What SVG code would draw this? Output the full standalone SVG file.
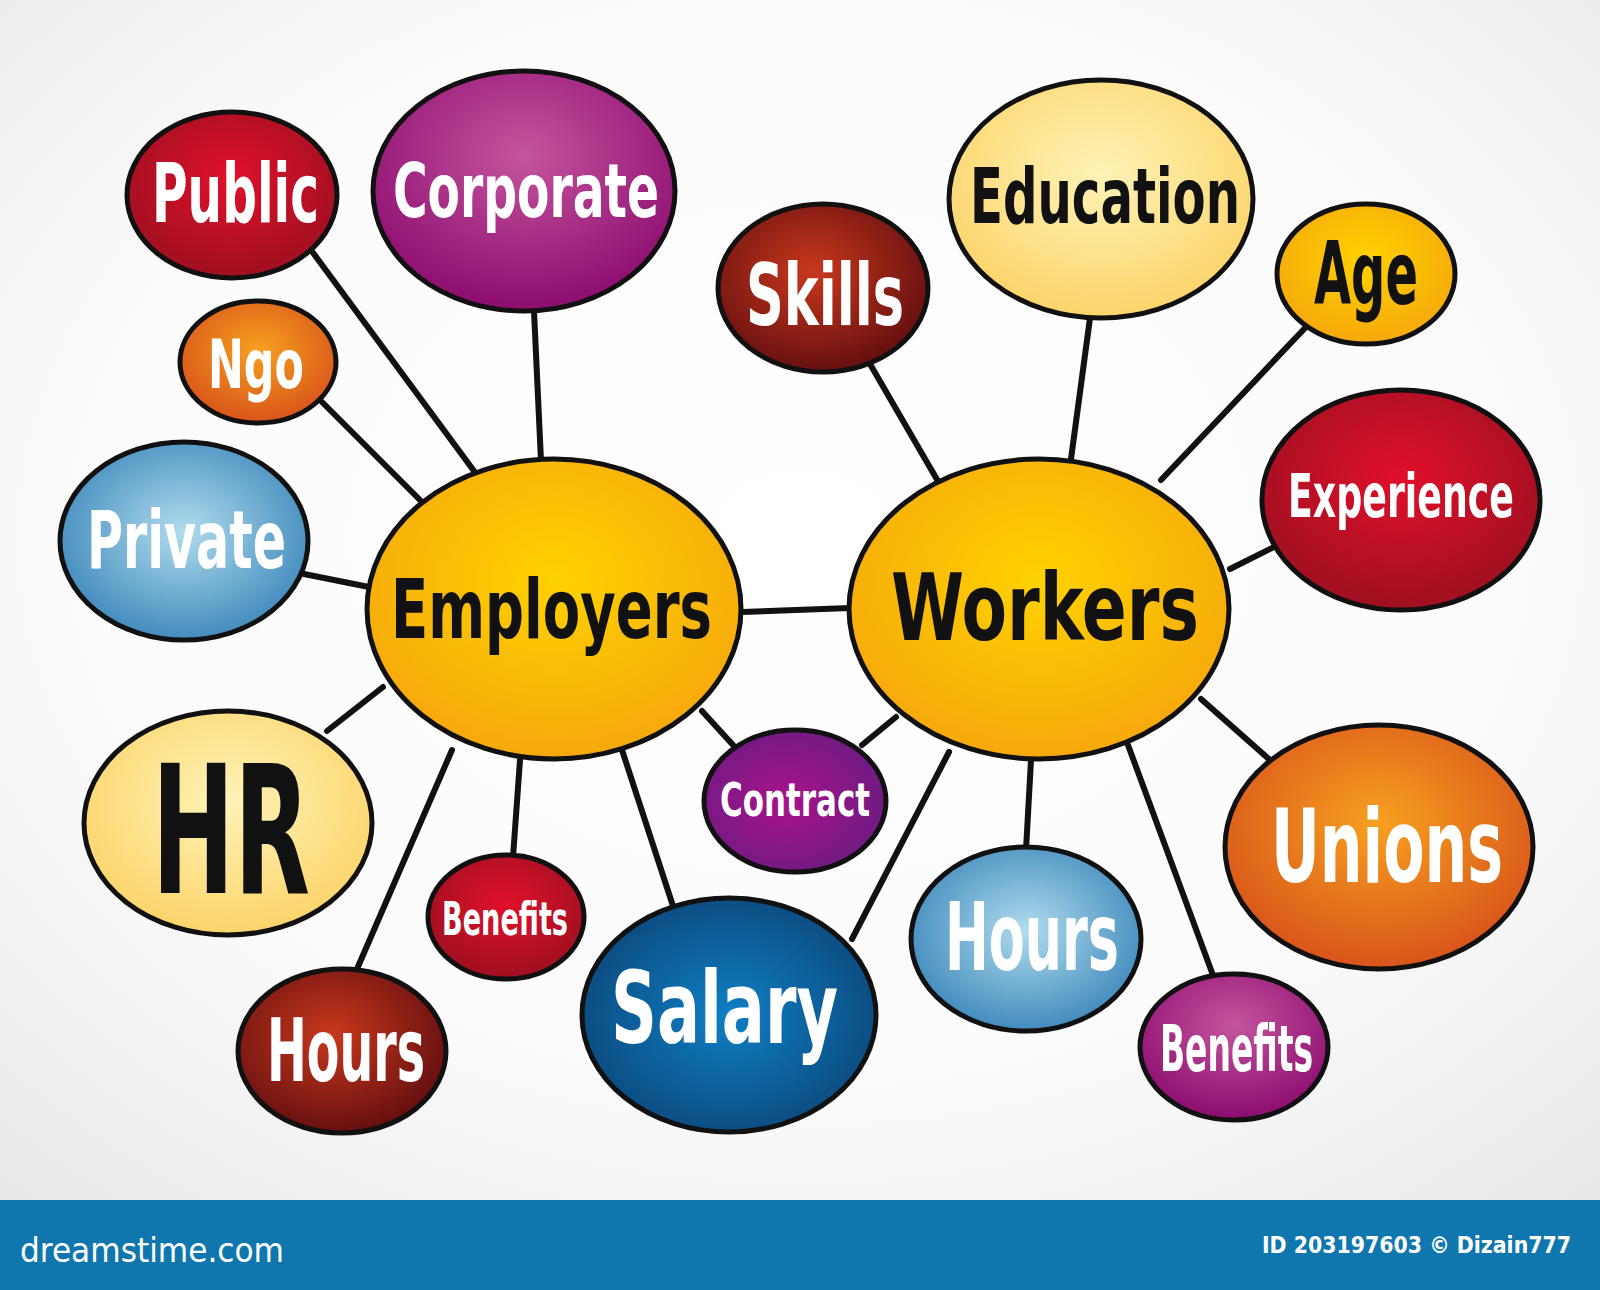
<svg xmlns="http://www.w3.org/2000/svg" width="1600" height="1290" viewBox="0 0 1600 1290">
<defs>
<radialGradient id="bg" cx="50%" cy="45%" r="75%"><stop offset="0" stop-color="#ffffff"/><stop offset="0.6" stop-color="#fbfbfb"/><stop offset="1" stop-color="#e8e8e8"/></radialGradient>
<radialGradient id="gGold" cx="50%" cy="40%" r="60%"><stop offset="0" stop-color="#ffd200"/><stop offset="1" stop-color="#f6a80c"/></radialGradient>
<radialGradient id="gCream" cx="50%" cy="40%" r="60%"><stop offset="0" stop-color="#fff3b8"/><stop offset="1" stop-color="#fcd46a"/></radialGradient>
<radialGradient id="gRed" cx="50%" cy="40%" r="60%"><stop offset="0" stop-color="#e0102a"/><stop offset="1" stop-color="#9e1020"/></radialGradient>
<radialGradient id="gMag" cx="50%" cy="35%" r="62%"><stop offset="0" stop-color="#c4559f"/><stop offset="1" stop-color="#8e0f70"/></radialGradient>
<radialGradient id="gOrange" cx="50%" cy="40%" r="60%"><stop offset="0" stop-color="#f7a020"/><stop offset="1" stop-color="#d8541a"/></radialGradient>
<radialGradient id="gLBlue" cx="50%" cy="45%" r="60%"><stop offset="0" stop-color="#b0dcee"/><stop offset="1" stop-color="#3884b8"/></radialGradient>
<radialGradient id="gDRed" cx="45%" cy="40%" r="60%"><stop offset="0" stop-color="#c8381c"/><stop offset="1" stop-color="#661010"/></radialGradient>
<radialGradient id="gBlue" cx="50%" cy="50%" r="60%"><stop offset="0" stop-color="#0f7fc4"/><stop offset="1" stop-color="#0b4476"/></radialGradient>
<radialGradient id="gPurple" cx="45%" cy="50%" r="60%"><stop offset="0" stop-color="#a8128a"/><stop offset="1" stop-color="#6a1c82"/></radialGradient>
<style>
.n{stroke:#111;stroke-width:5}
.c line{stroke:#111;stroke-width:6;stroke-linecap:round}
text{font-family:"Liberation Sans Narrow","DejaVu Sans Condensed","Liberation Sans",sans-serif;font-weight:bold}
.w{fill:#ffffff}
.k{fill:#111111}
</style>
</defs>
<rect x="0" y="0" width="1600" height="1200" fill="url(#bg)"/>
<g id="connectors" class="c">
<line x1="311" y1="250" x2="474" y2="471"/>
<line x1="534" y1="311" x2="541" y2="461"/>
<line x1="321" y1="401" x2="420" y2="500"/>
<line x1="304" y1="574" x2="369" y2="587"/>
<line x1="327" y1="731" x2="383" y2="687"/>
<line x1="357" y1="969" x2="452" y2="750"/>
<line x1="513" y1="857" x2="520" y2="760"/>
<line x1="673" y1="906" x2="622" y2="750"/>
<line x1="733" y1="745" x2="702" y2="711"/>
<line x1="862" y1="745" x2="896" y2="717"/>
<line x1="742" y1="612" x2="850" y2="608"/>
<line x1="870" y1="364" x2="939" y2="483"/>
<line x1="1090" y1="318" x2="1071" y2="459"/>
<line x1="1306" y1="327" x2="1161" y2="480"/>
<line x1="1276" y1="546" x2="1230" y2="569"/>
<line x1="1270" y1="760" x2="1201" y2="699"/>
<line x1="1214" y1="978" x2="1128" y2="745"/>
<line x1="1026" y1="850" x2="1031" y2="760"/>
<line x1="852" y1="939" x2="949" y2="752"/>
</g>
<g id="employers"><ellipse class="n" cx="554" cy="609" rx="187" ry="150" fill="url(#gGold)"/><text class="k" x="391" y="638" font-size="82" textLength="321" lengthAdjust="spacingAndGlyphs">Employers</text></g>
<g id="workers"><ellipse class="n" cx="1039" cy="609" rx="190" ry="150" fill="url(#gGold)"/><text class="k" x="891" y="640" font-size="92" textLength="308" lengthAdjust="spacingAndGlyphs">Workers</text></g>
<g id="public"><ellipse class="n" cx="232" cy="195" rx="105" ry="83" fill="url(#gRed)"/><text class="w" x="152" y="222" font-size="82" textLength="167" lengthAdjust="spacingAndGlyphs">Public</text></g>
<g id="corporate"><ellipse class="n" cx="524" cy="191" rx="151" ry="120" fill="url(#gMag)"/><text class="w" x="393" y="217" font-size="75" textLength="266" lengthAdjust="spacingAndGlyphs">Corporate</text></g>
<g id="ngo"><ellipse class="n" cx="258" cy="362" rx="78" ry="61" fill="url(#gOrange)"/><text class="w" x="208" y="388" font-size="68" textLength="96" lengthAdjust="spacingAndGlyphs">Ngo</text></g>
<g id="private"><ellipse class="n" cx="184" cy="541" rx="124" ry="99" fill="url(#gLBlue)"/><text class="w" x="87" y="568" font-size="80" textLength="199" lengthAdjust="spacingAndGlyphs">Private</text></g>
<g id="hr"><ellipse class="n" cx="228" cy="823" rx="144" ry="112" fill="url(#gCream)"/><text class="k" x="152" y="893" font-size="178" textLength="158" lengthAdjust="spacingAndGlyphs">HR</text></g>
<g id="benefits-employers"><ellipse class="n" cx="506" cy="917" rx="78" ry="62" fill="url(#gRed)"/><text class="w" x="442" y="935" font-size="46" textLength="126" lengthAdjust="spacingAndGlyphs">Benefits</text></g>
<g id="hours-employers"><ellipse class="n" cx="342" cy="1051" rx="104" ry="82" fill="url(#gDRed)"/><text class="w" x="267" y="1081" font-size="88" textLength="158" lengthAdjust="spacingAndGlyphs">Hours</text></g>
<g id="salary"><ellipse class="n" cx="729" cy="1015" rx="147" ry="117" fill="url(#gBlue)"/><text class="w" x="611" y="1043" font-size="100" textLength="227" lengthAdjust="spacingAndGlyphs">Salary</text></g>
<g id="contract"><ellipse class="n" cx="795" cy="801" rx="91" ry="71" fill="url(#gPurple)"/><text class="w" x="720" y="816" font-size="46" textLength="150" lengthAdjust="spacingAndGlyphs">Contract</text></g>
<g id="skills"><ellipse class="n" cx="823" cy="288" rx="105" ry="84" fill="url(#gDRed)"/><text class="w" x="746" y="325" font-size="85" textLength="158" lengthAdjust="spacingAndGlyphs">Skills</text></g>
<g id="education"><ellipse class="n" cx="1101" cy="199" rx="152" ry="119" fill="url(#gCream)"/><text class="k" x="970" y="223" font-size="76" textLength="270" lengthAdjust="spacingAndGlyphs">Education</text></g>
<g id="age"><ellipse class="n" cx="1366" cy="274" rx="89" ry="70" fill="url(#gGold)"/><text class="k" x="1314" y="304" font-size="88" textLength="104" lengthAdjust="spacingAndGlyphs">Age</text></g>
<g id="experience"><ellipse class="n" cx="1401" cy="500" rx="139" ry="110" fill="url(#gRed)"/><text class="w" x="1288" y="517" font-size="60" textLength="226" lengthAdjust="spacingAndGlyphs">Experience</text></g>
<g id="unions"><ellipse class="n" cx="1379" cy="847" rx="154" ry="122" fill="url(#gOrange)"/><text class="w" x="1271" y="882" font-size="102" textLength="232" lengthAdjust="spacingAndGlyphs">Unions</text></g>
<g id="hours-workers"><ellipse class="n" cx="1026" cy="939" rx="115" ry="92" fill="url(#gLBlue)"/><text class="w" x="945" y="970" font-size="94" textLength="174" lengthAdjust="spacingAndGlyphs">Hours</text></g>
<g id="benefits-workers"><ellipse class="n" cx="1234" cy="1047" rx="94" ry="73" fill="url(#gMag)"/><text class="w" x="1160" y="1071" font-size="64" textLength="153" lengthAdjust="spacingAndGlyphs">Benefits</text></g>
<rect x="0" y="1200" width="1600" height="90" fill="#1077ae"/>
<text class="w" x="20" y="1262" font-size="34" textLength="264" lengthAdjust="spacingAndGlyphs" style="font-weight:normal">dreamstime.com</text>
<text class="w" x="1262" y="1253" font-size="23" textLength="309" lengthAdjust="spacingAndGlyphs">ID 203197603 © Dizain777</text>
</svg>
